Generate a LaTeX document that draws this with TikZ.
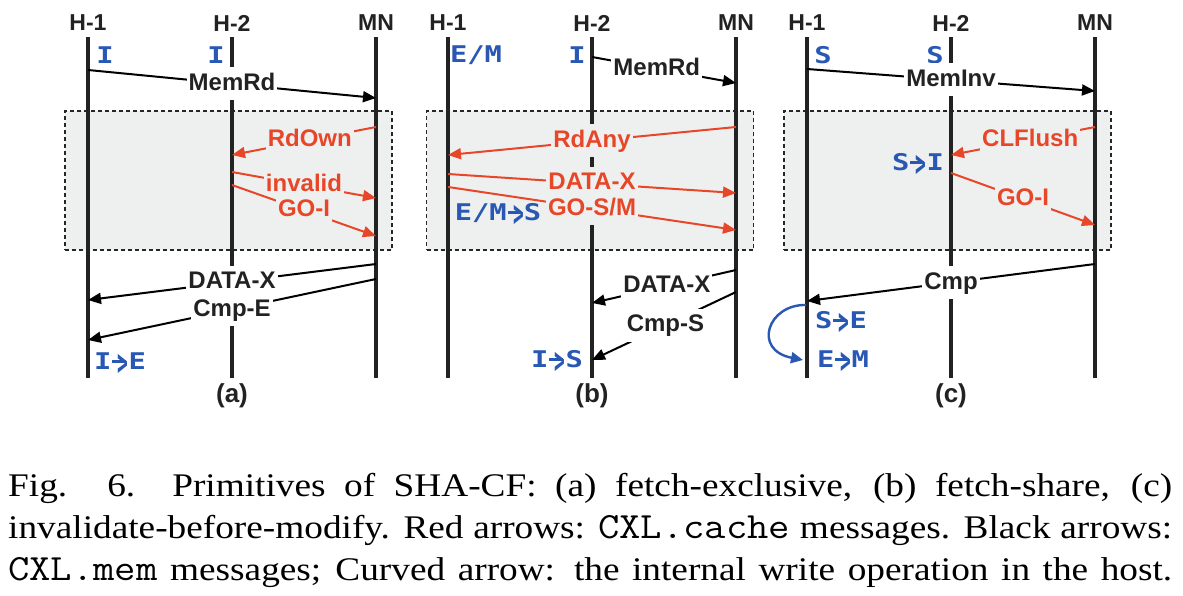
\documentclass[tikz,border=0pt]{standalone}
\usepackage{graphicx}
\usepackage{fontspec}
\setmainfont{Liberation Serif}
\newfontfamily\lsans{Liberation Sans}
\newfontfamily\stfont{DejaVu Sans Mono Bold}[FakeStretch=1.25]
\newfontfamily\capfont{Liberation Serif}[FakeStretch=1.13]
\newfontfamily\capmono{Latin Modern Mono}[FakeStretch=1.12]
\newcommand{\sar}{\makebox[0.75em][l]{\kern0.04em\rule[0.30em]{0.6em}{0.12em}\kern-0.36em\raisebox{-0.23em}{\scalebox{0.62}[1.6]{>}}}}
\usetikzlibrary{arrows.meta}
\definecolor{cxlred}{RGB}{232,70,40}
\definecolor{stblue}{RGB}{40,88,180}
\definecolor{boxgray}{RGB}{238,240,239}
\definecolor{txtblack}{RGB}{34,34,34}
\tikzset{
  life/.style={line width=3.6pt, draw=txtblack},
  hdr/.style={font=\lsans\bfseries\fontsize{23}{23}\selectfont, text=txtblack, inner sep=0pt},
  subcap/.style={font=\lsans\bfseries\fontsize{26}{26}\selectfont, text=txtblack, inner sep=0pt},
  msgline/.style={line width=2pt, -{Triangle[length=13pt,width=11pt]}},
  blackmsg/.style={msgline, draw=black},
  redmsg/.style={msgline, draw=cxlred},
  lbl/.style={font=\lsans\bfseries\fontsize{24}{24}\selectfont, text=txtblack, fill=white,
    inner xsep=2pt, inner ysep=6pt, text height=17pt, text depth=4pt},
  redlbl/.style={lbl, text=cxlred, fill=boxgray},
  state/.style={font=\stfont\fontsize{23}{23}\selectfont, text=stblue, inner sep=0pt},
  phase/.style={draw=black!85, dash pattern=on 4pt off 3pt, line width=1.3pt, fill=boxgray,
    minimum width=327pt, minimum height=139pt, inner sep=0pt},
  capline/.style={anchor=base west, inner sep=0pt, font=\capfont\fontsize{33}{40}\selectfont},
  wcurve/.style={line width=2.4pt, draw=stblue, -{Triangle[length=12pt,width=11pt]}}
}
\begin{document}
\begin{tikzpicture}[x=1pt,y=-1pt]
\fill[white] (0,0) rectangle (1183,596);
\useasboundingbox (0,0) rectangle (1183,596);

% ---------------- panel (a) ----------------
\node[phase] (aphase) at (228.5,180.5) {};
\node[hdr] (aH1) at (88,23) {H-1};
\node[hdr] (aH2) at (232,23) {H-2};
\node[hdr] (aMN) at (376,23) {MN};
\coordinate (aH1t) at (88,37);  \coordinate (aH1b) at (88,378);
\coordinate (aH2t) at (232,37); \coordinate (aH2b) at (232,378);
\coordinate (aMNt) at (376,37); \coordinate (aMNb) at (376,378);
\draw[life] (aH1t) -- (aH1b);
\draw[life] (aH2t) -- (aH2b);
\draw[life] (aMNt) -- (aMNb);
\node[state] (aS1) at (105,55) {I};
\node[state] (aS2) at (216,55) {I};
\coordinate (am1s) at (88,70);   \coordinate (am1e) at (376,98);
\coordinate (am2s) at (376,127); \coordinate (am2e) at (232,155);
\coordinate (am3s) at (232,172); \coordinate (am3e) at (376,198);
\coordinate (am4s) at (232,185); \coordinate (am4e) at (376,236);
\coordinate (am5s) at (376,264); \coordinate (am5e) at (88,300);
\coordinate (am6s) at (376,279); \coordinate (am6e) at (88,340);
\draw[blackmsg] (am1s) -- node[lbl,pos=.5] (aL1) {MemRd} (am1e);
\draw[redmsg] (am2s) -- node[redlbl,pos=.46] (aL2) {RdOwn} (am2e);
\draw[redmsg] (am3s) -- node[redlbl,pos=.5] (aL3) {invalid} (am3e);
\draw[redmsg] (am4s) -- node[redlbl,pos=.5] (aL4) {GO-I} (am4e);
\draw[blackmsg] (am5s) -- node[lbl,pos=.5] (aL5) {DATA-X} (am5e);
\draw[blackmsg] (am6s) -- node[lbl,pos=.5] (aL6) {Cmp-E} (am6e);
\node[state] (aS3) at (120,364) {I\sar E};
\node[subcap] (acap) at (232,396) {(a)};

% ---------------- panel (b) ----------------
\node[phase] (bphase) at (590,180.5) {};
\node[hdr] (bH1) at (448,23) {H-1};
\node[hdr] (bH2) at (592,23) {H-2};
\node[hdr] (bMN) at (736,23) {MN};
\coordinate (bH1t) at (448,37); \coordinate (bH1b) at (448,378);
\coordinate (bH2t) at (592,37); \coordinate (bH2b) at (592,378);
\coordinate (bMNt) at (736,37); \coordinate (bMNb) at (736,378);
\draw[life] (bH1t) -- (bH1b);
\draw[life] (bH2t) -- (bH2b);
\draw[life] (bMNt) -- (bMNb);
\node[state] (bS1) at (476,55) {E/M};
\node[state] (bS2) at (577,55) {I};
\coordinate (bm1s) at (592,57);  \coordinate (bm1e) at (736,83);
\coordinate (bm2s) at (736,127); \coordinate (bm2e) at (448,155);
\coordinate (bm3s) at (448,174); \coordinate (bm3e) at (736,193);
\coordinate (bm4s) at (448,187); \coordinate (bm4e) at (736,230);
\coordinate (bm5s) at (736,270); \coordinate (bm5e) at (592,303);
\coordinate (bm6s) at (736,292); \coordinate (bm6e) at (592,360);
\draw[blackmsg] (bm1s) -- node[lbl,pos=.45] (bL1) {MemRd} (bm1e);
\draw[redmsg] (bm2s) -- node[redlbl,pos=.5] (bL2) {RdAny} (bm2e);
\draw[redmsg] (bm3s) -- node[redlbl,pos=.5] (bL3) {DATA-X} (bm3e);
\draw[redmsg] (bm4s) -- node[redlbl,pos=.5] (bL4) {GO-S/M} (bm4e);
\draw[blackmsg] (bm5s) -- node[lbl,pos=.48] (bL5) {DATA-X} (bm5e);
\draw[blackmsg] (bm6s) -- node[lbl,pos=.49] (bL6) {Cmp-S} (bm6e);
\node[state] (bS3) at (498,215) {E/M\sar S};
\node[state] (bS4) at (557,362) {I\sar S};
\node[subcap] (bcap) at (592,396) {(b)};

% ---------------- panel (c) ----------------
\node[phase] (cphase) at (947.5,180.5) {};
\node[hdr] (cH1) at (807,23) {H-1};
\node[hdr] (cH2) at (951,23) {H-2};
\node[hdr] (cMN) at (1095,23) {MN};
\coordinate (cH1t) at (807,37);  \coordinate (cH1b) at (807,378);
\coordinate (cH2t) at (951,37);  \coordinate (cH2b) at (951,378);
\coordinate (cMNt) at (1095,37); \coordinate (cMNb) at (1095,378);
\draw[life] (cH1t) -- (cH1b);
\draw[life] (cH2t) -- (cH2b);
\draw[life] (cMNt) -- (cMNb);
\node[state] (cS1) at (823,55) {S};
\node[state] (cS2) at (935,55) {S};
\coordinate (cm1s) at (807,69);   \coordinate (cm1e) at (1095,91);
\coordinate (cm2s) at (1095,127); \coordinate (cm2e) at (951,155);
\coordinate (cm3s) at (951,173);  \coordinate (cm3e) at (1095,225);
\coordinate (cm4s) at (1095,264); \coordinate (cm4e) at (807,301);
\draw[blackmsg] (cm1s) -- node[lbl,pos=.5] (cL1) {MemInv} (cm1e);
\draw[redmsg] (cm2s) -- node[redlbl,pos=.45] (cL2) {CLFlush} (cm2e);
\draw[redmsg] (cm3s) -- node[redlbl,pos=.5] (cL3) {GO-I} (cm3e);
\draw[blackmsg] (cm4s) -- node[lbl,pos=.5] (cL4) {Cmp} (cm4e);
\node[state] (cS3) at (918,165) {S\sar I};
\node[state] (cS4) at (841,323) {S\sar E};
\node[state] (cS5) at (843,362) {E\sar M};
\coordinate (cws) at (806,305); \coordinate (cwe) at (803,360);
\draw[wcurve] (cws) .. controls (768,304) and (752,350) .. (cwe);
\node[subcap] (ccap) at (951,396) {(c)};

% ---------------- caption ----------------
\node[capline] (cap1) at (8,496) {\makebox[1164pt][s]{Fig. 6.\ \ Primitives of SHA-CF: (a) fetch-exclusive, (b) fetch-share, (c)}};
\node[capline] (cap2) at (8,538) {\makebox[1164pt][s]{invalidate-before-modify. Red arrows: {\capmono\fontsize{37}{40}\selectfont CXL.cache} messages. Black arrows:}};
\node[capline] (cap3) at (8,580) {\makebox[1164pt][s]{{\capmono\fontsize{37}{40}\selectfont CXL.mem} messages; Curved arrow: the internal write operation in the host.}};
\end{tikzpicture}
\end{document}
